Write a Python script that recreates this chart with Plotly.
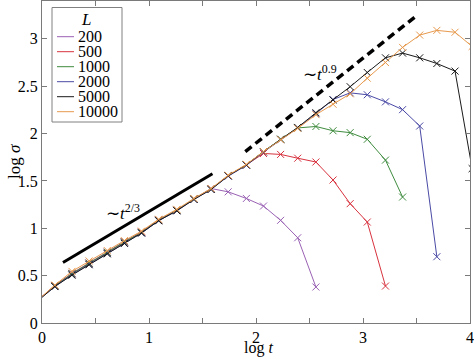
import plotly.graph_objects as go

# log t sample positions (shared by all series)
log_t = [-0.045, 0.12, 0.28, 0.44, 0.61, 0.77, 0.93, 1.09, 1.26, 1.42, 1.58,
         1.74, 1.91, 2.07, 2.23, 2.39, 2.56, 2.72, 2.88, 3.04, 3.21, 3.37,
         3.53, 3.69, 3.86, 4.02]

sizes = ["200", "500", "1000", "2000", "5000", "10000"]
colors = ["#9a62b4", "#d8333f", "#3f8c3f", "#4a4aa6", "#1a1a1a", "#e79a4e"]

s200 = [0.235, 0.395, 0.525, 0.635, 0.75, 0.86, 0.96, 1.09, 1.19, 1.31, 1.42,
        1.385, 1.315, 1.235, 1.084, 0.90, 0.38]
s500 = [0.235, 0.395, 0.52, 0.63, 0.745, 0.855, 0.96, 1.085, 1.19, 1.31, 1.415,
        1.555, 1.67, 1.79, 1.78, 1.74, 1.70, 1.51, 1.26, 1.066, 0.39]
s1000 = [0.235, 0.39, 0.52, 0.63, 0.745, 0.855, 0.955, 1.085, 1.19, 1.31, 1.415,
         1.555, 1.67, 1.81, 1.94, 2.06, 2.075, 2.03, 2.01, 1.94, 1.72, 1.33]
s2000 = [0.23, 0.385, 0.51, 0.62, 0.735, 0.845, 0.95, 1.08, 1.185, 1.305, 1.41,
         1.55, 1.665, 1.805, 1.935, 2.06, 2.21, 2.36, 2.43, 2.41, 2.335, 2.253,
         2.08, 0.70]
s5000 = [0.23, 0.385, 0.505, 0.615, 0.73, 0.84, 0.95, 1.08, 1.185, 1.305, 1.41,
         1.555, 1.67, 1.81, 1.94, 2.065, 2.22, 2.355, 2.495, 2.645, 2.80, 2.85,
         2.80, 2.74, 2.66, 1.63]
s10000 = [0.235, 0.40, 0.545, 0.655, 0.765, 0.87, 0.97, 1.095, 1.20, 1.315, 1.42,
          1.56, 1.675, 1.81, 1.935, 2.055, 2.20, 2.31, 2.42, 2.585, 2.75, 2.91,
          3.04, 3.09, 3.07, 2.92]
series = [s200, s500, s1000, s2000, s5000, s10000]

# guide lines ~t^{2/3} and ~t^{0.9}
guide1_x = [0.196, 1.593]
guide1_y = [0.639, 1.576]
guide2_x = [1.90, 3.495]
guide2_y = [1.81, 3.24]

x_ticks = [0, 0.5, 1, 1.5, 2, 2.5, 3, 3.5, 4]
x_ticktext = ["0", "", "1", "", "2", "", "3", "", "4"]
y_ticks = [0, 0.5, 1, 1.5, 2, 2.5, 3]
y_ticktext = ["0", "0.5", "1", "1.5", "2", "2.5", "3"]

FONT = "Liberation Serif"
W, H = 474, 358
ML, MR, MT, MB = 42, 4, 1, 35
PW, PH = W - ML - MR, H - MT - MB

def px(xp):
    return (xp - ML) / PW

def py(yp):
    return (H - MB - yp) / PH

fig = go.Figure()
for name, col, ys in zip(sizes, colors, series):
    fig.add_trace(go.Scatter(
        x=log_t[:len(ys)], y=ys, mode="lines+markers", name=name,
        line=dict(color=col, width=1),
        marker=dict(symbol="x-thin", size=7, line=dict(color=col, width=1)),
        showlegend=False))

fig.add_trace(go.Scatter(x=guide1_x, y=guide1_y, mode="lines",
                         line=dict(color="black", width=3), showlegend=False))
fig.add_trace(go.Scatter(x=guide2_x, y=guide2_y, mode="lines",
                         line=dict(color="black", width=3.5, dash="8px,5px"),
                         showlegend=False))

C = dict(xanchor="center", yanchor="middle", showarrow=False)
annotations = [
    dict(x=0.76, y=1.17, xref="x", yref="y", text="∼<i>t</i><sup>2/3</sup>",
         font=dict(family=FONT, size=17, color="black"), **C),
    dict(x=2.6, y=2.64, xref="x", yref="y", text="∼<i>t</i><sup>0.9</sup>",
         font=dict(family=FONT, size=17, color="black"), **C),
    dict(x=px(258), y=py(348), xref="paper", yref="paper", text="log <i>t</i>",
         font=dict(family=FONT, size=16, color="black"), **C),
    dict(x=px(14), y=py(162), xref="paper", yref="paper", text="log <i>σ</i>",
         textangle=-90, font=dict(family=FONT, size=17, color="black"), **C),
    dict(x=px(86), y=py(20), xref="paper", yref="paper", text="<i>L</i>",
         font=dict(family=FONT, size=17, color="black"), **C),
]

shapes = [dict(type="rect", xref="paper", yref="paper",
               x0=px(52), x1=px(122), y0=py(122), y1=py(7.5),
               line=dict(color="#808080", width=1), fillcolor="white", layer="above")]

entry_y = [36.7, 51.7, 66.7, 81.7, 96.7, 111.7]
for name, col, ey in zip(sizes, colors, entry_y):
    shapes.append(dict(type="line", xref="paper", yref="paper",
                       x0=px(57), x1=px(74), y0=py(ey), y1=py(ey),
                       line=dict(color=col, width=1), layer="above"))
    annotations.append(dict(x=px(76), y=py(ey), xref="paper", yref="paper",
                            xanchor="left", yanchor="middle", text=name,
                            showarrow=False,
                            font=dict(family=FONT, size=16, color="black")))

axis_common = dict(showgrid=False, zeroline=False, showline=True,
                   linecolor="#7a7a7a", linewidth=1, mirror="ticks",
                   ticks="inside", ticklen=5, tickcolor="#7a7a7a",
                   automargin=False,
                   tickfont=dict(family=FONT, size=16, color="black"))

fig.update_layout(
    width=W, height=H,
    margin=dict(l=ML, r=MR, t=MT, b=MB),
    paper_bgcolor="white", plot_bgcolor="white",
    xaxis=dict(range=[0, 4], tickvals=x_ticks, ticktext=x_ticktext, **axis_common),
    yaxis=dict(range=[0, 3.4], tickvals=y_ticks, ticktext=y_ticktext, **axis_common),
    shapes=shapes, annotations=annotations,
)

fig.write_html("out.html", config={"displayModeBar": False},
               post_script="document.body.style.margin='0';"
                           "document.body.style.overflow='hidden';")
